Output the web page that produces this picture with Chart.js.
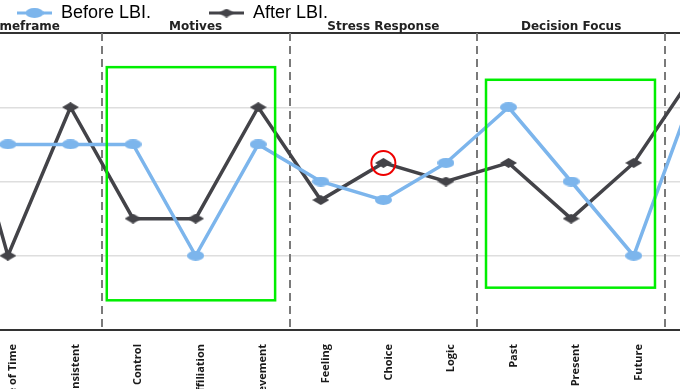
<!DOCTYPE html>
<html>
<head>
<meta charset="utf-8">
<script src="https://cdn.jsdelivr.net/npm/chart.js@4.4.1/dist/chart.umd.min.js"></script>
<style>
  html, body { margin: 0; padding: 0; background: #fff; overflow: hidden; }
  #wrap { position: relative; width: 680px; height: 389px; overflow: hidden; }
</style>
</head>
<body>
<div id="wrap"><canvas id="lbiChart" width="680" height="389"></canvas></div>
<script>
// Data (first and last categories sit just outside the visible window)
const categories = ['', 'Sense of Time', 'Consistent', 'Control', 'Affiliation', 'Achievement',
  'Feeling', 'Choice', 'Logic', 'Past', 'Present', 'Future', ''];
const beforeLBI = [2.5, 2.5, 2.5, 2.5, 1, 2.5, 2, 1.75, 2.25, 3, 2, 1, 3.3];
const afterLBI = [4, 1, 3, 1.5, 1.5, 3, 1.75, 2.25, 2, 2.25, 1.5, 2.25, 3.5];
const yTicks = [0, 1, 2, 3, 4];
const groupNames = ['Timeframe', 'Motives', 'Stress Response', 'Decision Focus'];
const groupEdges = [0, 2.5, 5.5, 8.5, 11.5];
// highlight boxes: [fromIndex, toIndex, lowValue, highValue]
const boxes = [[2.58, 5.27, 0.40, 3.54], [8.64, 11.34, 0.57, 3.37]];
const circled = 7; // Choice, after LBI

const BLUE = '#7cb5ec';
const DARK = '#434348';
const LEGEND_PAD = 58;

function marker(kind, color, w, h) {
  const c = document.createElement('canvas');
  c.width = w; c.height = h;
  const g = c.getContext('2d');
  g.fillStyle = color;
  g.beginPath();
  if (kind === 'circle') {
    g.ellipse(w / 2, h / 2, w / 2, h / 2, 0, 0, Math.PI * 2);
  } else {
    g.moveTo(w / 2, 0); g.lineTo(w, h / 2); g.lineTo(w / 2, h); g.lineTo(0, h / 2);
    g.closePath();
  }
  g.fill();
  return c;
}

function legendIcon(kind, color) {
  const c = document.createElement('canvas');
  c.width = 35; c.height = 12;
  const g = c.getContext('2d');
  g.strokeStyle = color; g.lineWidth = 3;
  g.beginPath(); g.moveTo(0, 6); g.lineTo(35, 6); g.stroke();
  const m = kind === 'circle' ? marker(kind, color, 18, 10) : marker(kind, color, 16, 9);
  g.drawImage(m, (35 - m.width) / 2, (12 - m.height) / 2);
  return c;
}

const icons = [legendIcon('circle', BLUE), legendIcon('diamond', DARK)];

// Section dividers, highlight boxes, circled point, group titles
const decorations = {
  id: 'decorations',
  beforeLayout(chart) {
    const lg = chart.legend;
    if (lg && !lg._patched) {
      const fit = lg.fit;
      lg.fit = function () { fit.call(this); this.height = 33; };
      lg._patched = true;
    }
  },
  afterLayout(chart) {
    chart.legend.top = 13 - 9 - LEGEND_PAD;
    chart.legend.left = 17 - LEGEND_PAD;
  },
  beforeDatasetsDraw(chart) {
    const { ctx, chartArea, scales: { x } } = chart;
    ctx.save();
    ctx.strokeStyle = '#7a7a7a';
    ctx.lineWidth = 2;
    ctx.setLineDash([8, 5]);
    groupEdges.slice(1).forEach(v => {
      const px = Math.round(x.getPixelForValue(v));
      ctx.beginPath();
      ctx.moveTo(px, chartArea.top);
      ctx.lineTo(px, chartArea.bottom);
      ctx.stroke();
    });
    ctx.restore();
  },
  afterDatasetsDraw(chart) {
    const { ctx, scales: { x, y } } = chart;
    ctx.save();
    ctx.strokeStyle = '#00ee00';
    ctx.lineWidth = 2.5;
    boxes.forEach(b => {
      const x0 = x.getPixelForValue(b[0]), x1 = x.getPixelForValue(b[1]);
      const y0 = y.getPixelForValue(b[3]), y1 = y.getPixelForValue(b[2]);
      ctx.strokeRect(x0, y0, x1 - x0, y1 - y0);
    });
    ctx.strokeStyle = '#ee0000';
    ctx.lineWidth = 2;
    ctx.beginPath();
    ctx.arc(x.getPixelForValue(circled), y.getPixelForValue(afterLBI[circled]), 12, 0, Math.PI * 2);
    ctx.stroke();
    ctx.restore();
  },
  afterDraw(chart) {
    const { ctx, scales: { x } } = chart;
    ctx.save();
    ctx.fillStyle = '#222';
    ctx.font = 'bold 12px "DejaVu Sans"';
    ctx.textAlign = 'center';
    ctx.textBaseline = 'alphabetic';
    groupNames.forEach((name, i) => {
      const cx = (x.getPixelForValue(groupEdges[i]) + x.getPixelForValue(groupEdges[i + 1])) / 2;
      ctx.fillText(name, cx, 30);
    });
    ctx.restore();
  }
};

const ctx = document.getElementById('lbiChart').getContext('2d');
new Chart(ctx, {
  type: 'line',
  data: {
    datasets: [{
      label: 'Before LBI.',
      data: beforeLBI.map((v, i) => ({ x: i, y: v })),
      borderColor: BLUE,
      backgroundColor: BLUE,
      borderWidth: 3.5,
      pointStyle: marker('circle', BLUE, 17, 10),
      pointRadius: 5,
      tension: 0
    }, {
      label: 'After LBI.',
      data: afterLBI.map((v, i) => ({ x: i, y: v })),
      borderColor: DARK,
      backgroundColor: DARK,
      borderWidth: 3.5,
      pointStyle: marker('diamond', DARK, 17, 10),
      pointRadius: 5,
      tension: 0
    }]
  },
  options: {
    responsive: false,
    animation: false,
    devicePixelRatio: 1,
    layout: { padding: 0, autoPadding: false },
    plugins: {
      tooltip: { enabled: false },
      legend: {
        position: 'top',
        align: 'start',
        labels: {
          usePointStyle: true,
          pointStyleWidth: 35,
          padding: LEGEND_PAD,
          color: '#1a1a1a',
          font: { family: '"Liberation Sans", Arial, sans-serif', size: 18 },
          generateLabels: (chart) => chart.data.datasets.map((ds, i) => ({
            text: ds.label,
            pointStyle: icons[i],
            fillStyle: ds.borderColor,
            strokeStyle: ds.borderColor,
            lineWidth: 0,
            hidden: false,
            datasetIndex: i
          }))
        }
      }
    },
    scales: {
      x: {
        type: 'linear',
        min: 1 - 7.9 / 62.58,
        max: 1 + 672.1 / 62.58,
        grid: { display: false, drawTicks: false },
        border: { display: true, color: '#333', width: 2 },
        ticks: {
          stepSize: 1,
          includeBounds: false,
          autoSkip: false,
          minRotation: 90,
          maxRotation: 90,
          padding: 14,
          labelOffset: 5,
          color: '#1a1a1a',
          font: { family: '"Open Sans", sans-serif', size: 11, weight: 'bold' },
          callback: (v) => categories[v] || ''
        },
        afterFit: (scale) => {
          scale.height = 59;
          scale.paddingLeft = 0;
          scale.paddingRight = 0;
        }
      },
      y: {
        min: yTicks[0],
        max: yTicks[yTicks.length - 1],
        afterBuildTicks: (scale) => { scale.ticks = yTicks.map(v => ({ value: v })); },
        ticks: { display: false },
        border: { display: false },
        grid: {
          drawTicks: false,
          color: (c) => c.tick.value === 4 ? '#333' : (c.tick.value === 0 ? 'rgba(0,0,0,0)' : '#dedede'),
          lineWidth: (c) => c.tick.value === 4 ? 2 : 1.5
        },
        afterFit: (scale) => { scale.width = 0; }
      }
    }
  },
  plugins: [decorations]
});
</script>
</body>
</html>
